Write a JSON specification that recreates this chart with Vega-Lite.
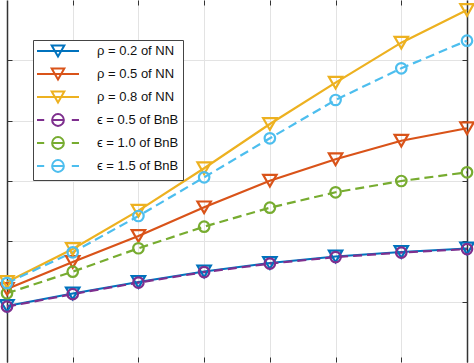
{
  "$schema": "https://vega.github.io/schema/vega-lite/v6.json",
  "width": 460,
  "height": 362,
  "autosize": {"type": "none"},
  "padding": {"left": 7, "top": 0, "right": 7, "bottom": 1},
  "background": "white",
  "view": {"stroke": null},
  "config": {
    "font": "Liberation Sans",
    "legend": {
      "orient": "none",
      "legendX": 26,
      "legendY": 40,
      "title": null,
      "padding": 4,
      "rowPadding": 3,
      "fillColor": "white",
      "strokeColor": "#444444",
      "symbolSize": 144,
      "symbolStrokeWidth": 2,
      "symbolOpacity": 1,
      "symbolOffset": 14,
      "labelOffset": 32,
      "labelFontSize": 13,
      "labelFont": "Liberation Sans",
      "labelColor": "#111111",
      "symbolFillColor": "transparent"
    }
  },
  "data": {
    "values": [
      {"x": 1, "y": 0.928, "series": "ρ = 0.2 of NN", "method": "NN"},
      {"x": 2, "y": 1.135, "series": "ρ = 0.2 of NN", "method": "NN"},
      {"x": 3, "y": 1.326, "series": "ρ = 0.2 of NN", "method": "NN"},
      {"x": 4, "y": 1.5, "series": "ρ = 0.2 of NN", "method": "NN"},
      {"x": 5, "y": 1.641, "series": "ρ = 0.2 of NN", "method": "NN"},
      {"x": 6, "y": 1.749, "series": "ρ = 0.2 of NN", "method": "NN"},
      {"x": 7, "y": 1.823, "series": "ρ = 0.2 of NN", "method": "NN"},
      {"x": 8, "y": 1.881, "series": "ρ = 0.2 of NN", "method": "NN"},
      {"x": 1, "y": 1.21, "series": "ρ = 0.5 of NN", "method": "NN"},
      {"x": 2, "y": 1.658, "series": "ρ = 0.5 of NN", "method": "NN"},
      {"x": 3, "y": 2.089, "series": "ρ = 0.5 of NN", "method": "NN"},
      {"x": 4, "y": 2.564, "series": "ρ = 0.5 of NN", "method": "NN"},
      {"x": 5, "y": 3.005, "series": "ρ = 0.5 of NN", "method": "NN"},
      {"x": 6, "y": 3.36, "series": "ρ = 0.5 of NN", "method": "NN"},
      {"x": 7, "y": 3.668, "series": "ρ = 0.5 of NN", "method": "NN"},
      {"x": 8, "y": 3.874, "series": "ρ = 0.5 of NN", "method": "NN"},
      {"x": 1, "y": 1.326, "series": "ρ = 0.8 of NN", "method": "NN"},
      {"x": 2, "y": 1.873, "series": "ρ = 0.8 of NN", "method": "NN"},
      {"x": 3, "y": 2.508, "series": "ρ = 0.8 of NN", "method": "NN"},
      {"x": 4, "y": 3.211, "series": "ρ = 0.8 of NN", "method": "NN"},
      {"x": 5, "y": 3.945, "series": "ρ = 0.8 of NN", "method": "NN"},
      {"x": 6, "y": 4.63, "series": "ρ = 0.8 of NN", "method": "NN"},
      {"x": 7, "y": 5.293, "series": "ρ = 0.8 of NN", "method": "NN"},
      {"x": 8, "y": 5.835, "series": "ρ = 0.8 of NN", "method": "NN"},
      {"x": 1, "y": 0.918, "series": "ϵ = 0.5 of BnB", "method": "BnB"},
      {"x": 2, "y": 1.125, "series": "ϵ = 0.5 of BnB", "method": "BnB"},
      {"x": 3, "y": 1.316, "series": "ϵ = 0.5 of BnB", "method": "BnB"},
      {"x": 4, "y": 1.49, "series": "ϵ = 0.5 of BnB", "method": "BnB"},
      {"x": 5, "y": 1.631, "series": "ϵ = 0.5 of BnB", "method": "BnB"},
      {"x": 6, "y": 1.739, "series": "ϵ = 0.5 of BnB", "method": "BnB"},
      {"x": 7, "y": 1.813, "series": "ϵ = 0.5 of BnB", "method": "BnB"},
      {"x": 8, "y": 1.871, "series": "ϵ = 0.5 of BnB", "method": "BnB"},
      {"x": 1, "y": 1.139, "series": "ϵ = 1.0 of BnB", "method": "BnB"},
      {"x": 2, "y": 1.497, "series": "ϵ = 1.0 of BnB", "method": "BnB"},
      {"x": 3, "y": 1.885, "series": "ϵ = 1.0 of BnB", "method": "BnB"},
      {"x": 4, "y": 2.243, "series": "ϵ = 1.0 of BnB", "method": "BnB"},
      {"x": 5, "y": 2.558, "series": "ϵ = 1.0 of BnB", "method": "BnB"},
      {"x": 6, "y": 2.813, "series": "ϵ = 1.0 of BnB", "method": "BnB"},
      {"x": 7, "y": 3.0, "series": "ϵ = 1.0 of BnB", "method": "BnB"},
      {"x": 8, "y": 3.144, "series": "ϵ = 1.0 of BnB", "method": "BnB"},
      {"x": 1, "y": 1.309, "series": "ϵ = 1.5 of BnB", "method": "BnB"},
      {"x": 2, "y": 1.818, "series": "ϵ = 1.5 of BnB", "method": "BnB"},
      {"x": 3, "y": 2.42, "series": "ϵ = 1.5 of BnB", "method": "BnB"},
      {"x": 4, "y": 3.061, "series": "ϵ = 1.5 of BnB", "method": "BnB"},
      {"x": 5, "y": 3.708, "series": "ϵ = 1.5 of BnB", "method": "BnB"},
      {"x": 6, "y": 4.343, "series": "ϵ = 1.5 of BnB", "method": "BnB"},
      {"x": 7, "y": 4.868, "series": "ϵ = 1.5 of BnB", "method": "BnB"},
      {"x": 8, "y": 5.326, "series": "ϵ = 1.5 of BnB", "method": "BnB"}
    ]
  },
  "resolve": {"axis": {"x": "independent", "y": "independent"}},
  "layer": [
    {
      "mark": {"type": "point", "size": 0, "filled": false, "strokeWidth": 2, "opacity": 1},
      "encoding": {
        "x": {"field": "x", "type": "quantitative", "scale": {"domain": [1, 8], "nice": false, "zero": false},
          "axis": {"orient": "top", "title": null, "labels": false, "grid": false, "domain": false, "ticks": true, "tickSize": -5, "tickColor": "#333333", "tickWidth": 1, "values": [2, 3, 4, 5, 6, 7]}},
        "y": {"field": "y", "type": "quantitative", "scale": {"domain": [0, 6], "nice": false, "zero": false},
          "axis": {"orient": "right", "title": null, "labels": false, "grid": false, "domain": true, "domainColor": "#333333", "domainWidth": 1.5, "ticks": true, "tickSize": -5, "tickColor": "#333333", "tickWidth": 1, "values": [1, 2, 3, 4, 5]}},
        "color": {"field": "series", "type": "nominal", "sort": null,
          "scale": {"domain": ["ρ = 0.2 of NN", "ρ = 0.5 of NN", "ρ = 0.8 of NN", "ϵ = 0.5 of BnB", "ϵ = 1.0 of BnB", "ϵ = 1.5 of BnB"],
            "range": ["#0072BD", "#D95319", "#EDB120", "#7E2F8E", "#77AC30", "#4DBEEE"]}},
        "shape": {"field": "series", "type": "nominal", "sort": null,
          "scale": {"domain": ["ρ = 0.2 of NN", "ρ = 0.5 of NN", "ρ = 0.8 of NN", "ϵ = 0.5 of BnB", "ϵ = 1.0 of BnB", "ϵ = 1.5 of BnB"],
            "range": [
              "M-3.5,0H3.5M-1.05,-0.9H1.05L0,0.9Z",
              "M-3.5,0H3.5M-1.05,-0.9H1.05L0,0.9Z",
              "M-3.5,0H3.5M-1.05,-0.9H1.05L0,0.9Z",
              "M-3.5,0H-2.3M2.3,0H3.5M-0.98,0H0.98M0.98,0A0.98,0.98 0 1,1 -0.98,0A0.98,0.98 0 1,1 0.98,0",
              "M-3.5,0H-2.3M2.3,0H3.5M-0.98,0H0.98M0.98,0A0.98,0.98 0 1,1 -0.98,0A0.98,0.98 0 1,1 0.98,0",
              "M-3.5,0H-2.3M2.3,0H3.5M-0.98,0H0.98M0.98,0A0.98,0.98 0 1,1 -0.98,0A0.98,0.98 0 1,1 0.98,0"
            ]}}
      }
    },
    {
      "transform": [{"filter": "datum.method == 'NN'"}],
      "mark": {"type": "line", "strokeWidth": 2.2},
      "encoding": {
        "x": {"field": "x", "type": "quantitative",
          "axis": {"orient": "bottom", "title": null, "labels": false, "grid": true, "gridColor": "#e3e3e3", "gridWidth": 1, "domain": false, "ticks": true, "tickSize": -5, "tickColor": "#333333", "tickWidth": 1, "values": [1, 2, 3, 4, 5, 6, 7, 8]}},
        "y": {"field": "y", "type": "quantitative",
          "axis": {"orient": "left", "title": null, "labels": false, "grid": true, "gridColor": "#e3e3e3", "gridWidth": 1, "domain": true, "domainColor": "#333333", "domainWidth": 1.5, "ticks": true, "tickSize": -5, "tickColor": "#333333", "tickWidth": 1, "values": [1, 2, 3, 4, 5]}},
        "color": {"field": "series", "type": "nominal", "sort": null}
      }
    },
    {
      "transform": [{"filter": "datum.method == 'BnB'"}],
      "mark": {"type": "line", "strokeWidth": 2.2, "strokeDash": [9, 5]},
      "encoding": {
        "x": {"field": "x", "type": "quantitative", "axis": null},
        "y": {"field": "y", "type": "quantitative", "axis": null},
        "color": {"field": "series", "type": "nominal", "sort": null}
      }
    },
    {
      "transform": [{"filter": "datum.method == 'NN'"}],
      "mark": {"type": "point", "shape": "triangle-down", "size": 180, "filled": false, "strokeWidth": 2.2, "opacity": 1},
      "encoding": {
        "x": {"field": "x", "type": "quantitative", "axis": null},
        "y": {"field": "y", "type": "quantitative", "axis": null},
        "color": {"field": "series", "type": "nominal", "sort": null}
      }
    },
    {
      "transform": [{"filter": "datum.method == 'BnB'"}],
      "mark": {"type": "point", "shape": "circle", "size": 110, "filled": false, "strokeWidth": 2.2, "opacity": 1},
      "encoding": {
        "x": {"field": "x", "type": "quantitative", "axis": null},
        "y": {"field": "y", "type": "quantitative", "axis": null},
        "color": {"field": "series", "type": "nominal", "sort": null}
      }
    }
  ]
}
